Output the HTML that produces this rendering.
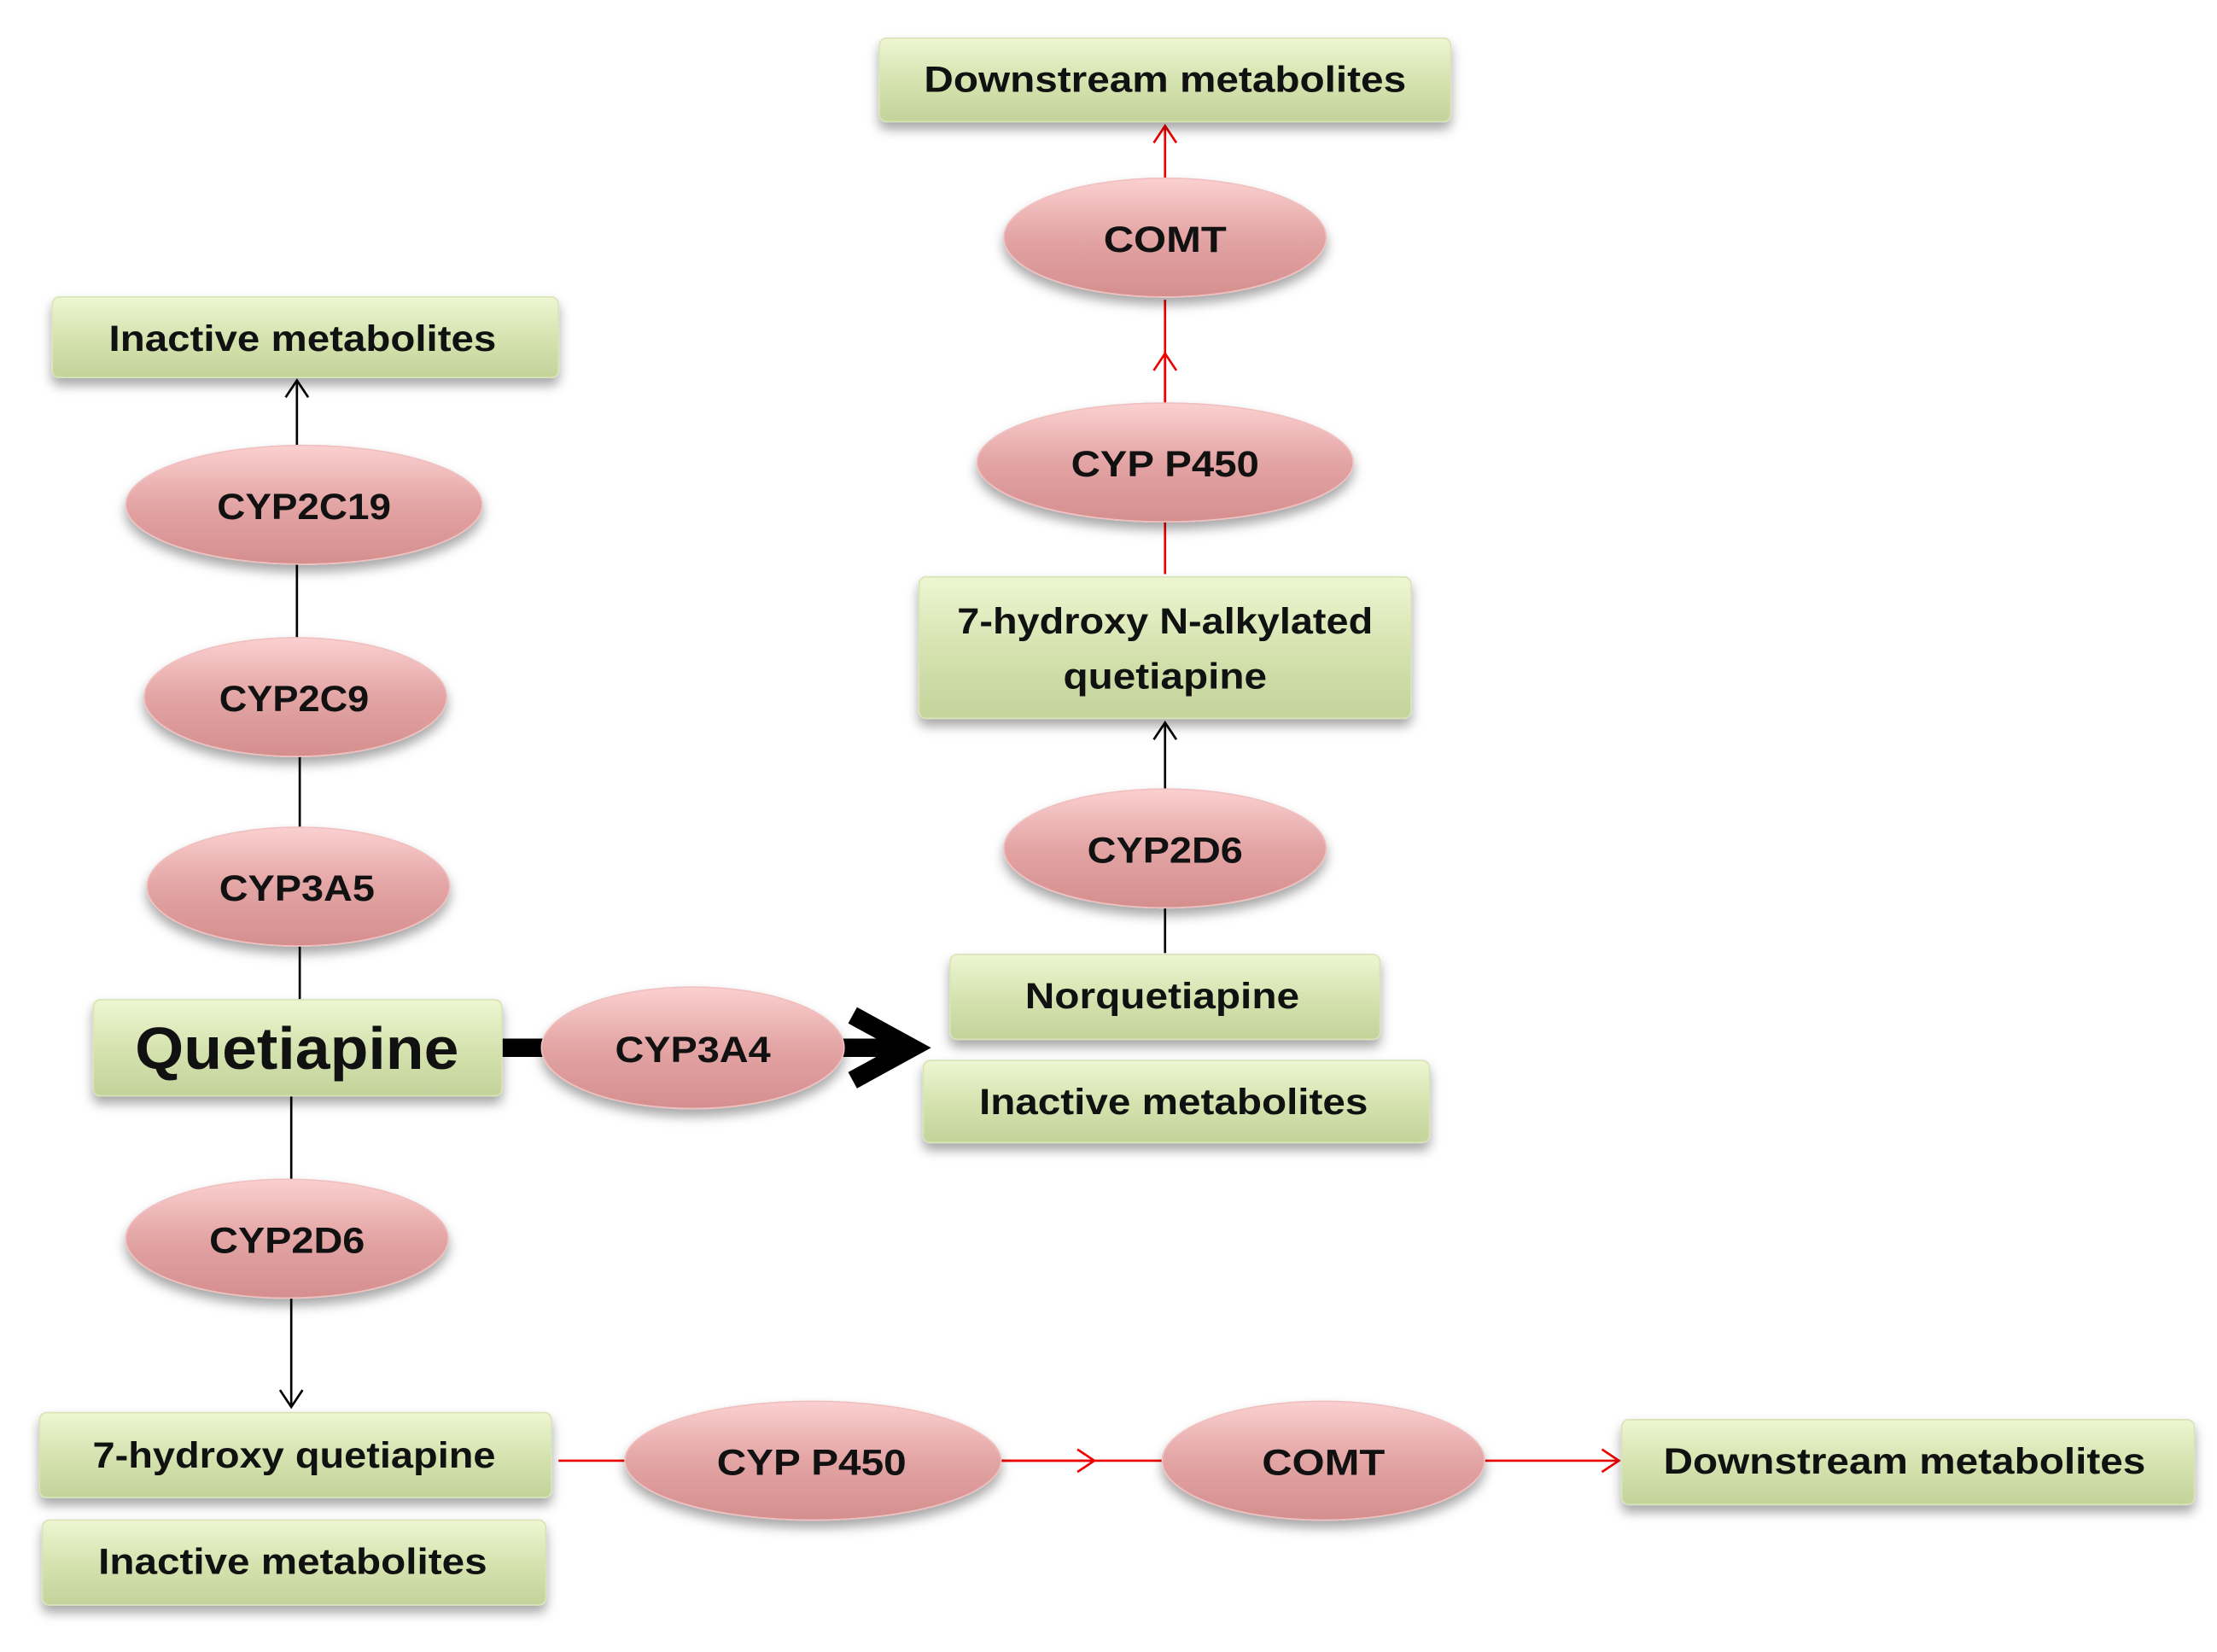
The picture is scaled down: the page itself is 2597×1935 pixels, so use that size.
<!DOCTYPE html>
<html><head><meta charset="utf-8"><style>html,body{margin:0;padding:0;background:#fff}svg{display:block}</style></head><body>
<svg width="2597" height="1935" viewBox="0 0 1568 1168.3" xmlns="http://www.w3.org/2000/svg">
<defs>
<linearGradient id="g" x1="0" y1="0" x2="0" y2="1"><stop offset="0" stop-color="#eef6d2"/><stop offset="0.5" stop-color="#d6e3b0"/><stop offset="1" stop-color="#c3d39a"/></linearGradient>
<linearGradient id="p" x1="0" y1="0" x2="0" y2="1"><stop offset="0" stop-color="#fbd0d0"/><stop offset="0.5" stop-color="#e3a4a4"/><stop offset="1" stop-color="#d58e8e"/></linearGradient>
<filter id="sh" x="-20%" y="-30%" width="140%" height="170%"><feDropShadow dx="0" dy="5" stdDeviation="4" flood-color="#000" flood-opacity="0.35"/></filter>
<marker id="ab" markerWidth="16" markerHeight="18" refX="13" refY="9" orient="auto" markerUnits="userSpaceOnUse"><path d="M1,1 L13,9 L1,17" fill="none" stroke="#000" stroke-width="1.6"/></marker>
<marker id="ar" markerWidth="16" markerHeight="18" refX="13" refY="9" orient="auto" markerUnits="userSpaceOnUse"><path d="M1,1 L13,9 L1,17" fill="none" stroke="#e00" stroke-width="1.6"/></marker>
</defs>
<g stroke-width="1.6" fill="none">
<line x1="210" y1="315" x2="210" y2="269" stroke="#000" marker-end="url(#ab)"/>
<line x1="210" y1="399" x2="210" y2="451" stroke="#000"/>
<line x1="212" y1="535" x2="212" y2="585" stroke="#000"/>
<line x1="212" y1="669" x2="212" y2="707" stroke="#000"/>
<line x1="206" y1="775" x2="206" y2="834" stroke="#000"/>
<line x1="206" y1="918" x2="206" y2="995" stroke="#000" marker-end="url(#ab)"/>
<line x1="824" y1="558" x2="824" y2="511" stroke="#000" marker-end="url(#ab)"/>
<line x1="824" y1="642" x2="824" y2="674" stroke="#000"/>
<line x1="824" y1="406" x2="824" y2="369" stroke="#e00"/>
<line x1="824" y1="285" x2="824" y2="212" stroke="#e00"/>
<line x1="824" y1="285" x2="824" y2="250" stroke="#e00" marker-end="url(#ar)"/>
<line x1="824" y1="126" x2="824" y2="89" stroke="#e00" marker-end="url(#ar)"/>
<line x1="395" y1="1033" x2="443" y2="1033" stroke="#e00"/>
<line x1="708" y1="1033" x2="822" y2="1033" stroke="#e00"/>
<line x1="708" y1="1033" x2="774" y2="1033" stroke="#e00" marker-end="url(#ar)"/>
<line x1="1050" y1="1033" x2="1145" y2="1033" stroke="#e00" marker-end="url(#ar)"/>
</g>
<line x1="355" y1="741" x2="635" y2="741" stroke="#000" stroke-width="13"/>
<path d="M603,718 L645,741 L603,764" fill="none" stroke="#000" stroke-width="13" stroke-linejoin="miter"/>
<g fill="url(#g)" filter="url(#sh)" stroke="#d8e4b8" stroke-width="1">
<rect x="622" y="27" width="404" height="59" rx="5"/>
<rect x="650" y="408" width="348" height="100" rx="5"/>
<rect x="672" y="675" width="304" height="60" rx="5"/>
<rect x="653" y="750" width="358" height="58" rx="5"/>
<rect x="37" y="210" width="358" height="57" rx="5"/>
<rect x="66" y="707" width="289" height="68" rx="5"/>
<rect x="28" y="999" width="362" height="60" rx="5"/>
<rect x="30" y="1075" width="356" height="60" rx="5"/>
<rect x="1147" y="1004" width="405" height="60" rx="5"/>
</g>
<g fill="url(#p)" filter="url(#sh)" stroke="#f0c0c0" stroke-width="1">
<ellipse cx="824" cy="168" rx="114" ry="42"/>
<ellipse cx="824" cy="327" rx="133" ry="42"/>
<ellipse cx="824" cy="600" rx="114" ry="42"/>
<ellipse cx="215" cy="357" rx="126" ry="42"/>
<ellipse cx="209" cy="493" rx="107" ry="42"/>
<ellipse cx="211" cy="627" rx="107" ry="42"/>
<ellipse cx="490" cy="741" rx="107" ry="43"/>
<ellipse cx="203" cy="876" rx="114" ry="42"/>
<ellipse cx="575" cy="1033" rx="133" ry="42"/>
<ellipse cx="936" cy="1033" rx="114" ry="42"/>
</g>
<g font-family="Liberation Sans, sans-serif" font-weight="bold" font-size="26" fill="#111" text-anchor="middle">
<text x="824" y="65" textLength="341" lengthAdjust="spacingAndGlyphs">Downstream metabolites</text>
<text x="824" y="178" textLength="87" lengthAdjust="spacingAndGlyphs">COMT</text>
<text x="824" y="337" textLength="133" lengthAdjust="spacingAndGlyphs">CYP P450</text>
<text x="824" y="448" textLength="294" lengthAdjust="spacingAndGlyphs">7-hydroxy N-alkylated</text>
<text x="824" y="487" textLength="144" lengthAdjust="spacingAndGlyphs">quetiapine</text>
<text x="824" y="610" textLength="110" lengthAdjust="spacingAndGlyphs">CYP2D6</text>
<text x="822" y="713" textLength="194" lengthAdjust="spacingAndGlyphs">Norquetiapine</text>
<text x="830" y="788" textLength="275" lengthAdjust="spacingAndGlyphs">Inactive metabolites</text>
<text x="214" y="248" textLength="274" lengthAdjust="spacingAndGlyphs">Inactive metabolites</text>
<text x="215" y="367" textLength="123" lengthAdjust="spacingAndGlyphs">CYP2C19</text>
<text x="208" y="503" textLength="106" lengthAdjust="spacingAndGlyphs">CYP2C9</text>
<text x="210" y="637" textLength="110" lengthAdjust="spacingAndGlyphs">CYP3A5</text>
<text x="210" y="756" font-size="42" textLength="229" lengthAdjust="spacingAndGlyphs">Quetiapine</text>
<text x="490" y="751" textLength="110" lengthAdjust="spacingAndGlyphs">CYP3A4</text>
<text x="203" y="886" textLength="110" lengthAdjust="spacingAndGlyphs">CYP2D6</text>
<text x="208" y="1038" textLength="285" lengthAdjust="spacingAndGlyphs">7-hydroxy quetiapine</text>
<text x="207" y="1113" textLength="275" lengthAdjust="spacingAndGlyphs">Inactive metabolites</text>
<text x="574" y="1043" textLength="134" lengthAdjust="spacingAndGlyphs">CYP P450</text>
<text x="936" y="1043" textLength="87" lengthAdjust="spacingAndGlyphs">COMT</text>
<text x="1347" y="1042" textLength="341" lengthAdjust="spacingAndGlyphs">Downstream metabolites</text>
</g>
</svg>
</body></html>
